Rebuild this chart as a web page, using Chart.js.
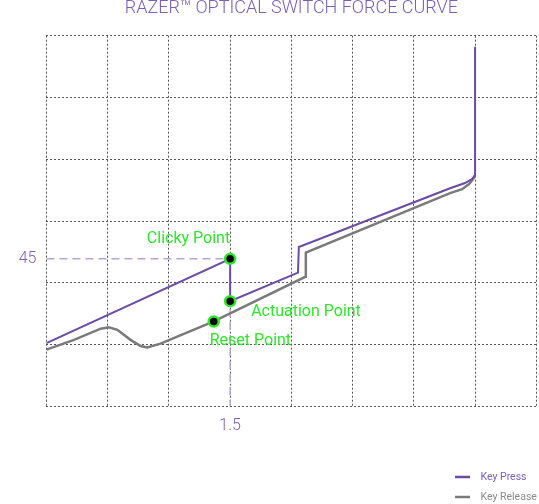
<!DOCTYPE html>
<html>
<head>
<meta charset="utf-8">
<script src="https://cdn.jsdelivr.net/npm/chart.js@4.4.1/dist/chart.umd.min.js"></script>
<style>
  html, body { margin: 0; padding: 0; background: #fff; }
  #wrap { width: 539px; height: 504px; }
</style>
</head>
<body>
<div id="wrap"><canvas id="forceChart"></canvas></div>
<script>
// travel (mm) and force (gf)
const pressTravel = [0, 1.5, 1.5, 2.054, 2.061, 3.296, 3.418, 3.475, 3.5, 3.5];
const pressForce = [19.3, 45, 32.1, 40.8, 48.6, 66.5, 68.1, 69.3, 70.5, 109.6];
const releaseTravel = [0, 0.225, 0.443, 0.51, 0.579, 0.687, 0.769, 0.823, 0.932, 1.366, 2.114, 2.118, 3.296, 3.394, 3.451, 3.484, 3.5];
const releaseForce = [17.3, 20.3, 23.7, 24.15, 23.35, 20.3, 18.4, 17.97, 19.16, 25.9, 39.5, 46.9, 65.0, 66.2, 67.8, 69.3, 70.4];

const pointNames = ['Clicky Point', 'Actuation Point', 'Reset Point'];
const pointTravel = [1.5, 1.5, 1.366];
const pointForce = [45, 32.1, 25.9];

// dashed guide from the force axis to the clicky point and down to the travel axis
const guideTravel = [0, 1.5, 1.5];
const guideForce = [45, 45, 0];

const seriesNames = ['Key Press', 'Key Release'];
const xTickLabels = ['1.5'];
const yTickLabels = ['45'];

const PURPLE = '#6b4ba6';
const GRAY = '#7a7a7a';
const GREEN = '#2ee62e';
const TEXT_PURPLE = '#7b5fb5';

const toXY = (xs, ys) => xs.map((x, i) => ({ x: x, y: ys[i] }));

// green captions next to the three markers
const pointCaptions = {
  id: 'pointCaptions',
  afterDatasetsDraw(chart) {
    const meta = chart.getDatasetMeta(0);
    const offs = [[0, -20, 'right'], [21, 11, 'left'], [-4, 20, 'left']];
    const ctx = chart.ctx;
    ctx.save();
    ctx.font = '16px Roboto';
    ctx.fillStyle = GREEN;
    ctx.textBaseline = 'middle';
    meta.data.forEach((pt, i) => {
      ctx.textAlign = offs[i][2];
      ctx.fillText(pointNames[i], pt.x + offs[i][0], pt.y + offs[i][1]);
    });
    ctx.restore();
  }
};

// stacked legend at the lower right
const stackedLegend = {
  id: 'stackedLegend',
  afterDraw(chart) {
    const ctx = chart.ctx;
    const w = chart.width, h = chart.height;
    ctx.save();
    ctx.font = '10.5px Roboto';
    ctx.textBaseline = 'middle';
    ctx.textAlign = 'left';
    [1, 2].forEach((di, i) => {
      const ds = chart.data.datasets[di];
      const y = h - 27 + i * 20;
      ctx.strokeStyle = ds.borderColor;
      ctx.lineWidth = 2.5;
      ctx.beginPath();
      ctx.moveTo(w - 84, y);
      ctx.lineTo(w - 69, y);
      ctx.stroke();
      ctx.fillStyle = i === 0 ? TEXT_PURPLE : '#8a8a8a';
      ctx.fillText(ds.label, w - 58.5, y);
    });
    ctx.restore();
  }
};

new Chart(document.getElementById('forceChart'), {
  type: 'scatter',
  data: {
    datasets: [
      {
        label: 'points',
        data: toXY(pointTravel, pointForce),
        showLine: false,
        pointRadius: 5,
        pointBorderWidth: 2.5,
        pointBackgroundColor: '#000',
        pointBorderColor: GREEN
      },
      {
        label: seriesNames[0],
        data: toXY(pressTravel, pressForce),
        showLine: true,
        borderColor: PURPLE,
        borderWidth: 2,
        pointRadius: 0,
        tension: 0
      },
      {
        label: seriesNames[1],
        data: toXY(releaseTravel, releaseForce),
        showLine: true,
        borderColor: GRAY,
        borderWidth: 2.5,
        pointRadius: 0,
        tension: 0
      },
      {
        label: 'guide',
        data: toXY(guideTravel, guideForce),
        showLine: true,
        borderColor: '#b4a5d8',
        borderWidth: 1.5,
        borderDash: [8, 5],
        pointRadius: 0
      }
    ]
  },
  options: {
    responsive: true,
    maintainAspectRatio: false,
    animation: false,
    layout: { autoPadding: false, padding: { left: 8.7, right: 2.7, top: 0, bottom: 58.3 } },
    plugins: {
      legend: { display: false },
      tooltip: { enabled: false },
      title: {
        display: true,
        text: 'RAZER™ OPTICAL SWITCH FORCE CURVE',
        color: TEXT_PURPLE,
        fullSize: false,
        font: { family: 'Roboto', size: 18, weight: '300', lineHeight: 0.944 },
        padding: { top: 0, bottom: 18.7 }
      }
    },
    scales: {
      x: {
        type: 'linear',
        min: 0,
        max: 4,
        border: { display: false, dash: [2, 2] },
        grid: { color: '#555', lineWidth: 1, drawTicks: false },
        ticks: {
          stepSize: 0.5,
          autoSkip: false,
          maxRotation: 0,
          padding: 0.5,
          color: TEXT_PURPLE,
          font: { family: 'Roboto', size: 16, weight: '300', lineHeight: 2.39 },
          callback: v => xTickLabels.includes(String(v)) ? String(v) : ''
        }
      },
      y: {
        type: 'linear',
        min: 0,
        max: 113,
        border: { display: false, dash: [2, 2] },
        grid: {
          drawTicks: false,
          lineWidth: 1,
          color: c => (c.tick && yTickLabels.includes(String(c.tick.value))) ? 'rgba(0,0,0,0)' : '#555'
        },
        afterBuildTicks: scale => {
          const ticks = [];
          for (let i = 0; i <= 6; i++) ticks.push({ value: 113 * i / 6 });
          yTickLabels.forEach(t => ticks.push({ value: Number(t) }));
          ticks.sort((a, b) => a.value - b.value);
          scale.ticks = ticks;
        },
        ticks: {
          autoSkip: false,
          padding: 10,
          color: TEXT_PURPLE,
          font: { family: 'Roboto', size: 16, weight: '300' },
          callback: v => yTickLabels.includes(String(v)) ? String(v) : ''
        }
      }
    }
  },
  plugins: [pointCaptions, stackedLegend]
});
</script>
</body>
</html>
